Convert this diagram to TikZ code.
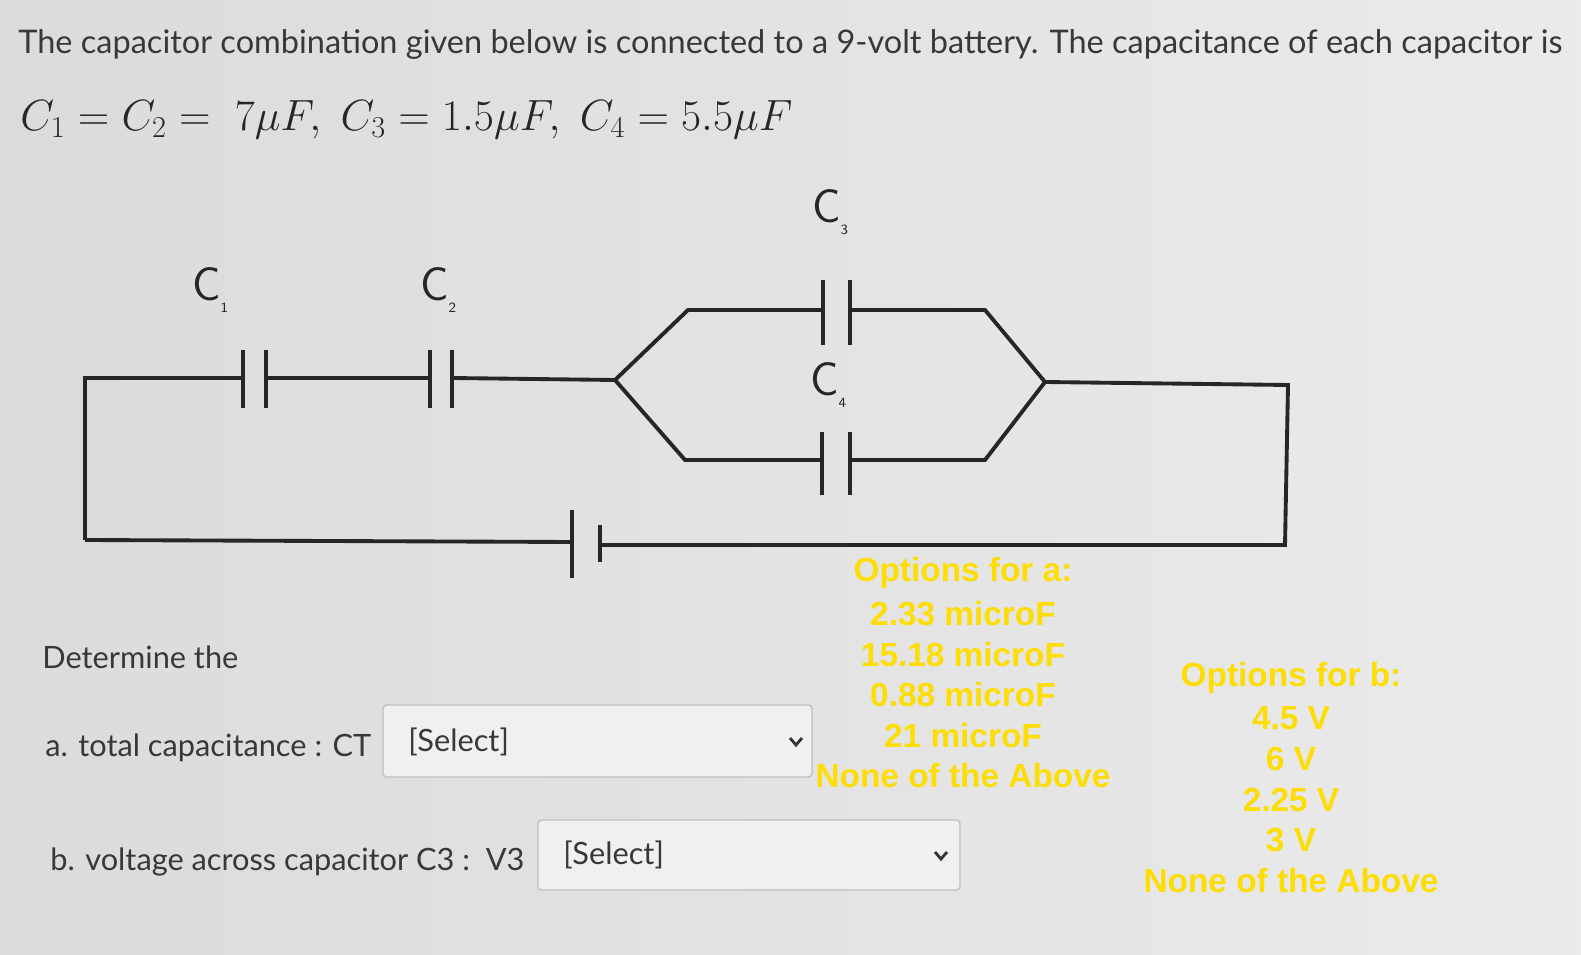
\documentclass[tikz,border=0pt]{standalone}
\usepackage{fontspec}
\setmainfont{Lato}
\newfontfamily\arialf{Liberation Sans}
\begin{document}
\begin{tikzpicture}[x=0.02cm,y=-0.02cm,
  wire/.style={line width=2.2pt,black!85},
  plate/.style={line width=2.6pt,black!85},
  txt/.style={anchor=west,inner sep=0,text=black!78,font=\fontsize{17.5}{20}\selectfont},
  lab/.style={inner sep=0,font=\fontsize{27}{30}\selectfont\sffamily,text=black!85},
  opt/.style={inner sep=0,text=yellow!80!orange,font=\arialf\bfseries\fontsize{19}{22}\selectfont},
  selbox/.style={draw=black!25,fill=black!6,line width=0.8pt,rounded corners=2pt}]
\shade[top color=black!12,bottom color=black!10,left color=black!14,right color=black!8] (0,0) rectangle (1581,955);
\useasboundingbox (0,0) rectangle (1581,955);
\node[txt,font=\fontsize{18.5}{22}\selectfont] (t1) at (18,45) {The capacitor combination given below is connected to a 9-volt battery. The capacitance of each capacitor is};
\node[txt,text=black!85,font=\fontsize{23}{26}\selectfont] (t2) at (20,120) {$C_1 = C_2 = \;7\mu F,\; C_3 = 1.5\mu F,\; C_4 = 5.5\mu F$};
% circuit
\coordinate (a) at (85,378); \coordinate (b) at (85,540);
\coordinate (l) at (615,380); \coordinate (r) at (1045,382);
\coordinate (rt) at (1288,385); \coordinate (rb) at (1285,545);
\draw[wire] (b) -- (a) -- (243,378);
\draw[plate] (243,350) -- (243,408); \draw[plate] (266,350) -- (266,408);
\draw[wire] (266,378) -- (430,378);
\draw[plate] (430,350) -- (430,408); \draw[plate] (452,350) -- (452,408);
\draw[wire] (452,378) -- (l);
\draw[wire] (l) -- (688,310) -- (823,310);
\draw[plate] (823,280) -- (823,345); \draw[plate] (850,280) -- (850,345);
\draw[wire] (850,310) -- (985,310) -- (r);
\draw[wire] (l) -- (685,460) -- (822,460);
\draw[plate] (822,432) -- (822,495); \draw[plate] (850,432) -- (850,495);
\draw[wire] (850,460) -- (985,460) -- (r);
\draw[wire] (r) -- (rt) -- (rb) -- (600,545);
\draw[plate] (572,510) -- (572,578); \draw[plate] (600,525) -- (600,562);
\draw[wire] (572,542) -- (b);
\node[lab] (c1) at (210,290) {C\raisebox{-0.6ex}{\fontsize{8}{8}\selectfont 1}};
\node[lab] (c2) at (438,290) {C\raisebox{-0.6ex}{\fontsize{8}{8}\selectfont 2}};
\node[lab] (c3) at (830,212) {C\raisebox{-0.6ex}{\fontsize{8}{8}\selectfont 3}};
\node[lab] (c4) at (828,385) {C\raisebox{-0.6ex}{\fontsize{8}{8}\selectfont 4}};
% questions
\node[txt] (d) at (42,657) {Determine the};
\node[txt] (qa) at (45,748) {a. total capacitance : CT};
\draw[selbox] (383,705) rectangle (812,777);
\node[txt] (sa) at (408,742) {[Select]};
\draw[line width=1.6pt,black!80] (790,738) -- (796,745) -- (802,738);
\node[txt] (qb) at (50,862) {b. voltage across capacitor C3 :\ \ V3};
\draw[selbox] (538,820) rectangle (960,890);
\node[txt] (sb) at (563,855) {[Select]};
\draw[line width=1.6pt,black!80] (935,852) -- (941,859) -- (947,852);
% options
\foreach \t [count=\i from 0] in {Options for a:,2.33 microF,15.18 microF,0.88 microF,21 microF,None of the Above}
  \node[opt] (oa\i) at (963,573+40.6*\i) {\t};
\foreach \t [count=\i from 0] in {Options for b:,4.5 V,6 V,2.25 V,3 V,None of the Above}
  \node[opt] (ob\i) at (1291,678+40.6*\i) {\t};
\end{tikzpicture}
\end{document}
